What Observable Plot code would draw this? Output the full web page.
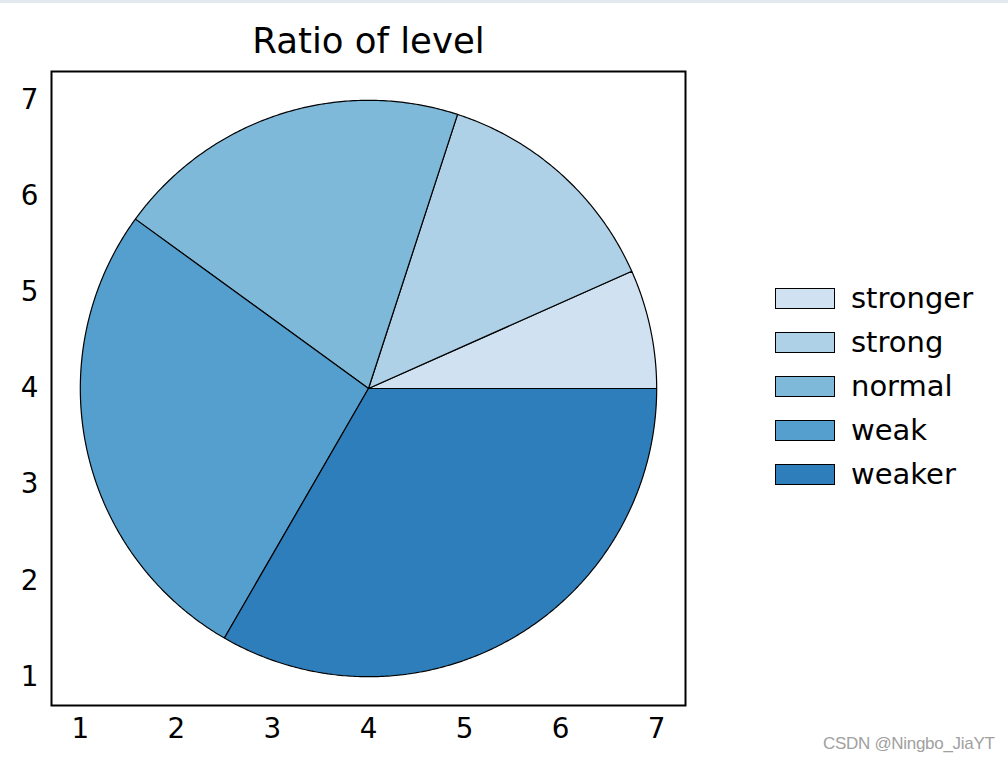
<!DOCTYPE html>
<html>
<head>
<meta charset="utf-8">
<script src="https://cdn.jsdelivr.net/npm/d3@7"></script>
<script src="https://cdn.jsdelivr.net/npm/@observablehq/plot@0.6"></script>
<style>
  html, body { margin: 0; padding: 0; background: #fff; }
  #wrap { position: relative; width: 1008px; height: 763px; overflow: hidden; font-family: "DejaVu Sans", sans-serif; }
  #topbar { position: absolute; left: 0; top: 0; width: 1008px; height: 3px; background: #e2e8ee; }
  #legend { position: absolute; left: 775px; top: 276px; }
  .row { display: flex; align-items: center; height: 44px; }
  .sw { width: 58px; height: 19px; border: 1px solid #000; margin-right: 16px; }
  .lab { font-size: 29px; color: #000; line-height: 1; }
  #wm { position: absolute; left: 823px; top: 734px; font-family: "Liberation Sans", sans-serif; font-size: 17px; color: #a0a0a0; letter-spacing: -0.3px; }
</style>
</head>
<body>
<div id="wrap">
  <div id="topbar"></div>
  <div id="chart"></div>
  <div id="legend"></div>
  <div id="wm">CSDN @Ningbo_JiaYT</div>
</div>
<script>
const title = "Ratio of level";
const labels = ["stronger", "strong", "normal", "weak", "weaker"];
const values = [1, 2, 3, 4, 5];
const colors = ["#d0e1f2", "#afd1e7", "#7fb9da", "#549fcd", "#2e7ebc"];
const center = [4, 4];
const radius = 3;
const ticks = [1, 2, 3, 4, 5, 6, 7];
const domain = [0.7, 7.3];

// Build slice polygons (counterclockwise from 0 rad) from the values
const total = d3.sum(values);
let acc = 0;
const slices = labels.map((label, i) => {
  const a0 = acc / total * 2 * Math.PI;
  acc += values[i];
  const a1 = acc / total * 2 * Math.PI;
  const n = Math.max(2, Math.ceil((a1 - a0) / (Math.PI / 360)));
  const pts = [{x: center[0], y: center[1], label}];
  for (let k = 0; k <= n; k++) {
    const a = a0 + (a1 - a0) * k / n;
    pts.push({x: center[0] + radius * Math.cos(a), y: center[1] + radius * Math.sin(a), label});
  }
  pts.push({x: center[0], y: center[1], label});
  return {label, color: colors[i], pts};
});

const chart = Plot.plot({
  width: 1008,
  height: 763,
  marginLeft: 51,
  marginRight: 323,
  marginTop: 71,
  marginBottom: 58,
  style: {fontFamily: "DejaVu Sans, sans-serif", color: "#000", background: "transparent", overflow: "visible"},
  x: {domain, ticks},
  y: {domain, ticks},
  marks: [
    ...slices.map(s => Plot.line(s.pts, {x: "x", y: "y", fill: s.color, stroke: "#000", strokeWidth: 1.2, strokeLinejoin: "miter"})),
    Plot.frame({stroke: "#000", strokeWidth: 2}),
    Plot.axisX({ticks, tickFormat: "d", tickSize: 0, tickPadding: 13, fontSize: 27.8, label: null}),
    Plot.axisY({ticks, tickFormat: "d", tickSize: 0, tickPadding: 13, fontSize: 27.8, label: null}),
    Plot.text([title], {frameAnchor: "top", dy: -44, fontSize: 35.5, fill: "#000"})
  ]
});
document.getElementById("chart").appendChild(chart);

const lg = document.getElementById("legend");
labels.forEach((l, i) => {
  const row = document.createElement("div");
  row.className = "row";
  row.innerHTML = `<div class="sw" style="background:${colors[i]}"></div><div class="lab">${l}</div>`;
  lg.appendChild(row);
});
</script>
</body>
</html>
